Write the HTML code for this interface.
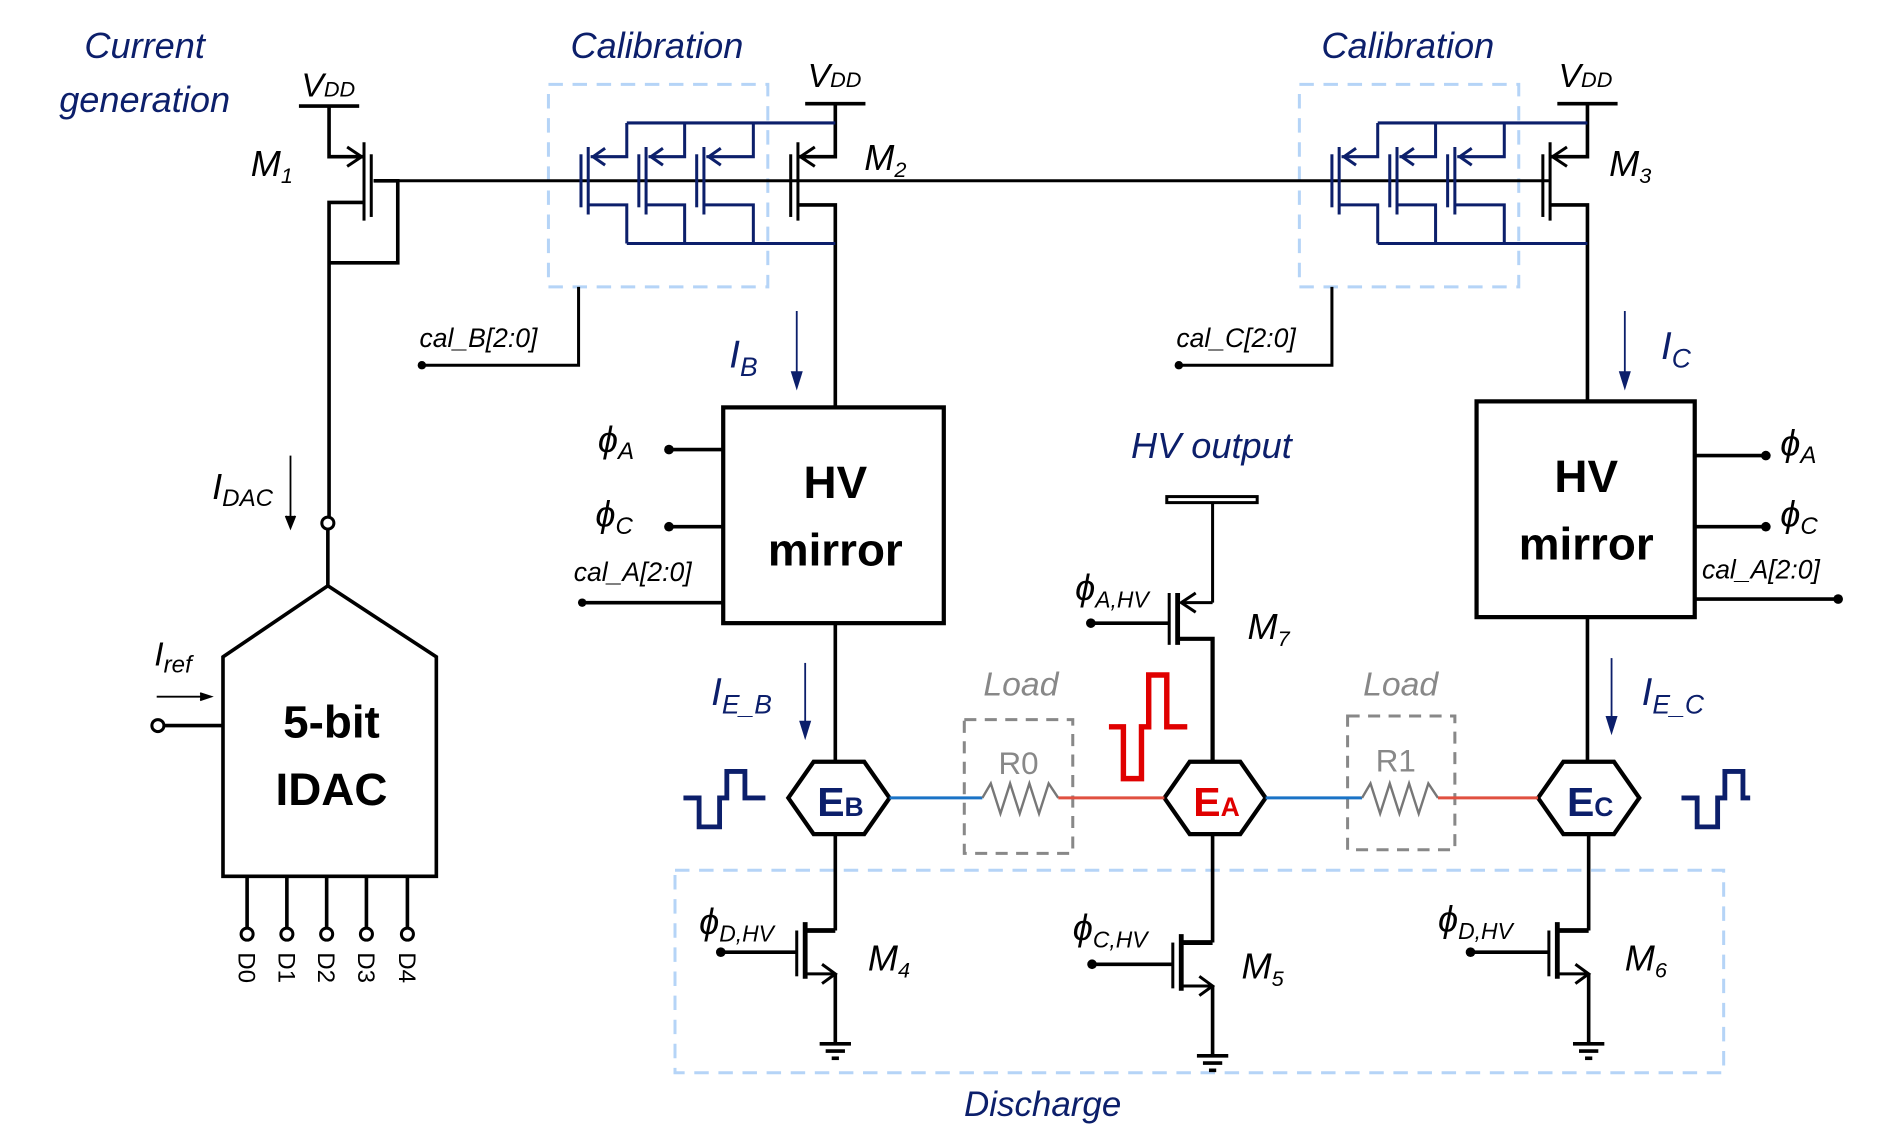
<!DOCTYPE html>
<html><head><meta charset="utf-8"><style>
html,body{margin:0;padding:0;background:#fff;}
svg{display:block;}
text{font-family:"Liberation Sans",sans-serif;}
.nv{fill:#0c1f6b;font-style:italic;}
.it{font-style:italic;fill:#000;}
.b{font-weight:bold;fill:#000;}
</style></head><body>
<svg width="1890" height="1133" viewBox="0 0 1568 940" preserveAspectRatio="none" xmlns="http://www.w3.org/2000/svg">
<text x="120" y="48" class="nv" font-size="30" text-anchor="middle">Current</text>
<text x="120" y="93" class="nv" font-size="30" text-anchor="middle">generation</text>
<text x="545" y="48" class="nv" font-size="30" text-anchor="middle">Calibration</text>
<text x="1168" y="48" class="nv" font-size="30" text-anchor="middle">Calibration</text>

<text x="250" y="80" class="it" font-size="28">V<tspan font-size="18">DD</tspan></text>
<text x="670" y="72" class="it" font-size="28">V<tspan font-size="18">DD</tspan></text>
<text x="1293" y="72" class="it" font-size="28">V<tspan font-size="18">DD</tspan></text>

<g fill="none" stroke="#b5d4f7" stroke-width="2.5" stroke-dasharray="12,8">
<rect x="455" y="70" width="182" height="168"/>
<rect x="1078" y="70" width="182" height="168"/>
<rect x="560" y="722" width="870" height="168"/>
</g>
<g fill="none" stroke="#888" stroke-width="2.5" stroke-dasharray="10,7">
<rect x="800" y="597" width="90" height="111"/>
<rect x="1118" y="594" width="89" height="111"/>
</g>

<g fill="none" stroke="#000" stroke-width="3">
<line x1="248" y1="88" x2="298" y2="88"/>
<polyline points="273,88 273,130 302,130"/>
<polyline points="288,122 300,130 288,138" stroke-width="2.5"/>
<line x1="302" y1="118" x2="302" y2="183" stroke-width="2.5"/>
<line x1="308" y1="128" x2="308" y2="180" stroke-width="2.5"/>
<polyline points="302,168 273,168 273,432"/>
<polyline points="310,150 330,150 330,218 273,218"/>
<line x1="310" y1="150" x2="1285" y2="150" stroke-width="2.5"/>
<circle cx="272" cy="434" r="5" stroke-width="2.5" fill="#fff"/>
<line x1="272" y1="440" x2="272" y2="486"/>
<polygon points="185,545 272,486 362,545 362,727 185,727"/>
<line x1="136" y1="602" x2="185" y2="602"/>
<circle cx="131" cy="602" r="5" stroke-width="2.5" fill="#fff"/>
<line x1="205" y1="727" x2="205" y2="770"/><circle cx="205" cy="775" r="5" stroke-width="2.5" fill="#fff"/>
<line x1="238" y1="727" x2="238" y2="770"/><circle cx="238" cy="775" r="5" stroke-width="2.5" fill="#fff"/>
<line x1="271" y1="727" x2="271" y2="770"/><circle cx="271" cy="775" r="5" stroke-width="2.5" fill="#fff"/>
<line x1="304" y1="727" x2="304" y2="770"/><circle cx="304" cy="775" r="5" stroke-width="2.5" fill="#fff"/>
<line x1="338" y1="727" x2="338" y2="770"/><circle cx="338" cy="775" r="5" stroke-width="2.5" fill="#fff"/>

<line x1="668" y1="86" x2="718" y2="86"/>
<polyline points="693,86 693,130 662,130"/>
<polyline points="676,122 664,130 676,138" stroke-width="2.5"/>
<line x1="662" y1="118" x2="662" y2="183" stroke-width="2.5"/>
<line x1="656" y1="128" x2="656" y2="180" stroke-width="2.5"/>
<polyline points="662,170 693,170 693,338"/>
<line x1="1292" y1="86" x2="1342" y2="86"/>
<polyline points="1317,86 1317,130 1286,130"/>
<polyline points="1300,122 1288,130 1300,138" stroke-width="2.5"/>
<line x1="1286" y1="118" x2="1286" y2="183" stroke-width="2.5"/>
<line x1="1280" y1="128" x2="1280" y2="180" stroke-width="2.5"/>
<polyline points="1286,170 1317,170 1317,333"/>

<polyline points="480,238 480,303 350,303" stroke-width="2.5"/>
<circle cx="350" cy="303" r="3.5" fill="#000" stroke="none"/>
<polyline points="1105,238 1105,303 978,303" stroke-width="2.5"/>
<circle cx="978" cy="303" r="3.5" fill="#000" stroke="none"/>

<rect x="600" y="338" width="183" height="179" stroke-width="3.5"/>
<rect x="1225" y="333" width="181" height="179" stroke-width="3.5"/>
<line x1="555" y1="373" x2="600" y2="373"/><line x1="555" y1="437" x2="600" y2="437"/>
<line x1="483" y1="500" x2="600" y2="500"/>
<line x1="1406" y1="378" x2="1465" y2="378"/><line x1="1406" y1="437" x2="1465" y2="437"/>
<line x1="1406" y1="497" x2="1525" y2="497"/>
<line x1="693" y1="517" x2="693" y2="632"/>
<line x1="1317" y1="512" x2="1317" y2="632"/>

<polygon points="654,662 675,632 717,632 738,662 717,692 675,692" stroke-width="3.5"/>
<polygon points="966,662 987,632 1029,632 1050,662 1029,692 987,692" stroke-width="3.5"/>
<polygon points="1276,662 1297,632 1339,632 1360,662 1339,692 1297,692" stroke-width="3.5"/>

<rect x="968" y="412" width="75" height="5" stroke-width="2.5"/>
<line x1="1006" y1="417" x2="1006" y2="500" stroke-width="2.5"/>
<line x1="1006" y1="500" x2="980" y2="500" stroke-width="2.5"/>
<polyline points="992,492 980,500 992,508" stroke-width="2.5"/>
<line x1="977" y1="492" x2="977" y2="535" stroke-width="4"/>
<line x1="970" y1="492" x2="970" y2="535" stroke-width="2.5"/>
<line x1="905" y1="517" x2="970" y2="517"/>
<polyline points="977,530 1006,530 1006,632" stroke-width="3.5"/>

<line x1="693" y1="692" x2="693" y2="772"/>
<line x1="693" y1="772" x2="668" y2="772" stroke-width="4"/>
<line x1="668" y1="765" x2="668" y2="812" stroke-width="4"/>
<line x1="661" y1="772" x2="661" y2="810" stroke-width="2.5"/>
<line x1="598" y1="790" x2="661" y2="790"/>
<line x1="668" y1="808" x2="693" y2="808" stroke-width="2.5"/>
<polyline points="682,800 693,808 682,816" stroke-width="2.5"/>
<line x1="693" y1="808" x2="693" y2="866"/>
<line x1="1006" y1="692" x2="1006" y2="782"/>
<line x1="1006" y1="782" x2="980" y2="782" stroke-width="4"/>
<line x1="980" y1="775" x2="980" y2="822" stroke-width="4"/>
<line x1="973" y1="782" x2="973" y2="820" stroke-width="2.5"/>
<line x1="906" y1="800" x2="973" y2="800"/>
<line x1="980" y1="818" x2="1006" y2="818" stroke-width="2.5"/>
<polyline points="995,810 1006,818 995,826" stroke-width="2.5"/>
<line x1="1006" y1="818" x2="1006" y2="876"/>
<line x1="1318" y1="692" x2="1318" y2="772"/>
<line x1="1318" y1="772" x2="1292" y2="772" stroke-width="4"/>
<line x1="1292" y1="765" x2="1292" y2="812" stroke-width="4"/>
<line x1="1285" y1="772" x2="1285" y2="810" stroke-width="2.5"/>
<line x1="1220" y1="790" x2="1285" y2="790"/>
<line x1="1292" y1="808" x2="1318" y2="808" stroke-width="2.5"/>
<polyline points="1307,800 1318,808 1307,816" stroke-width="2.5"/>
<line x1="1318" y1="808" x2="1318" y2="866"/>
<line x1="680" y1="866" x2="706" y2="866"/><line x1="685" y1="872" x2="701" y2="872"/><line x1="690" y1="878" x2="696" y2="878"/>
<line x1="993" y1="876" x2="1019" y2="876"/><line x1="998" y1="882" x2="1014" y2="882"/><line x1="1003" y1="888" x2="1009" y2="888"/>
<line x1="1305" y1="866" x2="1331" y2="866"/><line x1="1310" y1="872" x2="1326" y2="872"/><line x1="1315" y1="878" x2="1321" y2="878"/>
</g>
<g fill="#000">
<circle cx="555" cy="373" r="4"/><circle cx="555" cy="437" r="4"/><circle cx="483" cy="500" r="3.5"/>
<circle cx="1465" cy="378" r="4"/><circle cx="1465" cy="437" r="4"/><circle cx="1525" cy="497" r="4"/>
<circle cx="905" cy="517" r="4"/><circle cx="598" cy="790" r="4"/><circle cx="906" cy="800" r="4"/><circle cx="1220" cy="790" r="4"/>
</g>

<g fill="none" stroke="#0c1f6b" stroke-width="2.5">
<polyline points="520,102 693,102"/>
<polyline points="520,102 520,130 490,130"/><polyline points="502,123 492,130 502,137"/>
<polyline points="568,102 568,130 538,130"/><polyline points="550,123 540,130 550,137"/>
<polyline points="625,102 625,130 586,130"/><polyline points="598,123 588,130 598,137"/>
<line x1="488" y1="122" x2="488" y2="178"/><line x1="482" y1="128" x2="482" y2="172"/>
<line x1="536" y1="122" x2="536" y2="178"/><line x1="530" y1="128" x2="530" y2="172"/>
<line x1="584" y1="122" x2="584" y2="178"/><line x1="578" y1="128" x2="578" y2="172"/>
<polyline points="488,170 520,170 520,202"/><polyline points="536,170 568,170 568,202"/><polyline points="584,170 625,170 625,202"/>
<line x1="520" y1="202" x2="693" y2="202"/>

<polyline points="1143,102 1317,102"/>
<polyline points="1143,102 1143,130 1113,130"/><polyline points="1125,123 1115,130 1125,137"/>
<polyline points="1191,102 1191,130 1161,130"/><polyline points="1173,123 1163,130 1173,137"/>
<polyline points="1248,102 1248,130 1209,130"/><polyline points="1221,123 1211,130 1221,137"/>
<line x1="1111" y1="122" x2="1111" y2="178"/><line x1="1105" y1="128" x2="1105" y2="172"/>
<line x1="1159" y1="122" x2="1159" y2="178"/><line x1="1153" y1="128" x2="1153" y2="172"/>
<line x1="1207" y1="122" x2="1207" y2="178"/><line x1="1201" y1="128" x2="1201" y2="172"/>
<polyline points="1111,170 1143,170 1143,202"/><polyline points="1159,170 1191,170 1191,202"/><polyline points="1207,170 1248,170 1248,202"/>
<line x1="1143" y1="202" x2="1317" y2="202"/>

<line x1="661" y1="258" x2="661" y2="312" stroke-width="1.5"/>
<line x1="1348" y1="258" x2="1348" y2="312" stroke-width="1.5"/>
<line x1="668" y1="550" x2="668" y2="602" stroke-width="1.5"/>
<line x1="1337" y1="546" x2="1337" y2="598" stroke-width="1.5"/>
<polyline points="567,662 580,662 580,686 597,686 597,662 603,662 603,640 618,640 618,662 635,662" stroke-width="4"/>
<polyline points="1395,662 1408,662 1408,686 1425,686 1425,662 1431,662 1431,640 1446,640 1446,662 1452,662" stroke-width="4"/>
</g>
<g fill="#0c1f6b">
<polygon points="656,308 666,308 661,324"/>
<polygon points="1343,308 1353,308 1348,324"/>
<polygon points="663,598 673,598 668,614"/>
<polygon points="1332,594 1342,594 1337,610"/>
</g>
<g stroke="#000" stroke-width="1.5">
<line x1="241" y1="378" x2="241" y2="436"/>
<polyline points="237,428 241,438 245,428" fill="#000"/>
<line x1="130" y1="578" x2="172" y2="578"/>
<polyline points="166,575 175,578 166,581" fill="#000"/>
</g>
<polyline points="920,603 932,603 932,646 947,646 947,603 953,603 953,560 968,560 968,603 985,603" fill="none" stroke="#e00000" stroke-width="4.5"/>

<line x1="738" y1="662" x2="815" y2="662" stroke="#1a73c6" stroke-width="2.5"/>
<polyline points="815,662 822,650 830,675 838,650 846,675 854,650 862,675 870,650 878,662" fill="none" stroke="#777" stroke-width="2"/>
<line x1="878" y1="662" x2="966" y2="662" stroke="#e05040" stroke-width="2.5"/>
<line x1="1050" y1="662" x2="1130" y2="662" stroke="#1a73c6" stroke-width="2.5"/>
<polyline points="1130,662 1137,650 1145,675 1153,650 1161,675 1169,650 1177,675 1185,650 1193,662" fill="none" stroke="#777" stroke-width="2"/>
<line x1="1193" y1="662" x2="1276" y2="662" stroke="#e05040" stroke-width="2.5"/>

<text x="208" y="146" class="it" font-size="30">M<tspan font-size="18" dy="6">1</tspan></text>
<text x="717" y="141" class="it" font-size="30">M<tspan font-size="18" dy="6">2</tspan></text>
<text x="1335" y="146" class="it" font-size="30">M<tspan font-size="18" dy="6">3</tspan></text>
<text x="1035" y="530" class="it" font-size="30">M<tspan font-size="18" dy="6">7</tspan></text>
<text x="720" y="805" class="it" font-size="30">M<tspan font-size="18" dy="6">4</tspan></text>
<text x="1030" y="812" class="it" font-size="30">M<tspan font-size="18" dy="6">5</tspan></text>
<text x="1348" y="805" class="it" font-size="30">M<tspan font-size="18" dy="6">6</tspan></text>

<text x="176" y="414" class="it" font-size="30">I<tspan font-size="20" dy="6">DAC</tspan></text>
<text x="128" y="552" class="it" font-size="28">I<tspan font-size="20" dy="6">ref</tspan></text>
<text x="275" y="612" class="b" font-size="38" text-anchor="middle">5-bit</text>
<text x="275" y="668" class="b" font-size="38" text-anchor="middle">IDAC</text>
<g font-size="20" fill="#000">
<text transform="translate(198,790) rotate(90)">D0</text>
<text transform="translate(231,790) rotate(90)">D1</text>
<text transform="translate(264,790) rotate(90)">D2</text>
<text transform="translate(297,790) rotate(90)">D3</text>
<text transform="translate(331,790) rotate(90)">D4</text>
</g>

<text x="348" y="288" class="it" font-size="22">cal_B[2:0]</text>
<text x="976" y="288" class="it" font-size="22">cal_C[2:0]</text>
<text x="605" y="305" class="nv" font-size="32">I<tspan font-size="22" dy="7">B</tspan></text>
<text x="1378" y="298" class="nv" font-size="32">I<tspan font-size="22" dy="7">C</tspan></text>

<text x="693" y="413" class="b" font-size="38" text-anchor="middle">HV</text>
<text x="693" y="469" class="b" font-size="38" text-anchor="middle">mirror</text>
<text x="1316" y="408" class="b" font-size="38" text-anchor="middle">HV</text>
<text x="1316" y="464" class="b" font-size="38" text-anchor="middle">mirror</text>

<text x="496" y="375" class="it" font-size="30">ϕ<tspan font-size="20" dy="6">A</tspan></text>
<text x="494" y="437" class="it" font-size="30">ϕ<tspan font-size="20" dy="6">C</tspan></text>
<text x="476" y="482" class="it" font-size="22">cal_A[2:0]</text>
<text x="1477" y="378" class="it" font-size="30">ϕ<tspan font-size="20" dy="6">A</tspan></text>
<text x="1477" y="437" class="it" font-size="30">ϕ<tspan font-size="20" dy="6">C</tspan></text>
<text x="1412" y="480" class="it" font-size="22">cal_A[2:0]</text>

<text x="1005" y="380" class="nv" font-size="30" text-anchor="middle">HV output</text>
<text x="892" y="498" class="it" font-size="30">ϕ<tspan font-size="19" dy="6">A,HV</tspan></text>
<text x="580" y="775" class="it" font-size="30">ϕ<tspan font-size="19" dy="6">D,HV</tspan></text>
<text x="890" y="780" class="it" font-size="30">ϕ<tspan font-size="19" dy="6">C,HV</tspan></text>
<text x="1193" y="773" class="it" font-size="30">ϕ<tspan font-size="19" dy="6">D,HV</tspan></text>

<text x="590" y="585" class="nv" font-size="32">I<tspan font-size="22" dy="7">E_B</tspan></text>
<text x="1362" y="585" class="nv" font-size="32">I<tspan font-size="22" dy="7">E_C</tspan></text>

<text x="847" y="577" font-size="28" font-style="italic" fill="#888" text-anchor="middle">Load</text>
<text x="1162" y="577" font-size="28" font-style="italic" fill="#888" text-anchor="middle">Load</text>
<text x="845" y="642" font-size="26" fill="#888" text-anchor="middle">R0</text>
<text x="1158" y="640" font-size="26" fill="#888" text-anchor="middle">R1</text>

<text x="678" y="677" font-size="34" font-weight="bold" fill="#0c1f6b">E<tspan font-size="22">B</tspan></text>
<text x="990" y="677" font-size="34" font-weight="bold" fill="#e00000">E<tspan font-size="22">A</tspan></text>
<text x="1300" y="677" font-size="34" font-weight="bold" fill="#0c1f6b">E<tspan font-size="22">C</tspan></text>

<text x="865" y="926" class="nv" font-size="29" text-anchor="middle">Discharge</text>
</svg>
</body></html>
